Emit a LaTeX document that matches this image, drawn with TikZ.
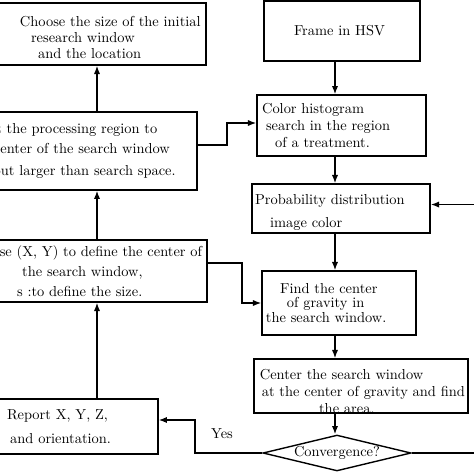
\documentclass[tikz,border=0pt]{standalone}
\usetikzlibrary{shapes.geometric,arrows.meta}
\tikzset
{
    box/.style      = {rectangle, draw=black, line width=1pt, align=left, inner xsep=0pt, inner ysep=0pt, font=\fontsize{10.4}{12.5}\selectfont},
    decision/.style = {diamond, draw=black, line width=1pt, inner sep=0pt, aspect=4, minimum width=3.75cm, minimum height=0.91cm, font=\fontsize{10.4}{12.5}\selectfont},
    arrow/.style    = {line width=1pt, ->, >={Latex[length=6pt,width=4.5pt]}}
}

\begin{document}
\begin{tikzpicture}[x=0.02532cm, y=-0.02532cm]
\useasboundingbox (0,0) rectangle (474,474);
\clip (0,0) rectangle (474,474);
% left column
\node(choose) [box, text width=5.47cm, minimum height=1.57cm] at (98,34) {\rule{0pt}{13pt}\hspace*{0.76cm}Choose the size of the initial\\[-1.5pt] \hspace*{1.04cm}research window\\[-0.5pt] \hspace*{1.22cm}and the location};
\node(proc) [box, text width=6.51cm, minimum height=1.97cm] at (68.5,151) {\hspace*{1.06cm}Set the processing region to\\[2pt] \hspace*{1.37cm}center of the search window\\[3pt] \hspace*{1.34cm}but larger than search space.};
\node(use) [box, text width=6.76cm, minimum height=1.57cm] at (73.5,271) {\hspace*{1.24cm}Use (X, Y) to define the center of\\[2pt] \hspace*{2.08cm}the search window,\\[2pt] \hspace*{1.95cm}s :to define the size.};
\node(report) [box, text width=4.25cm, minimum height=1.39cm] at (74,426.5) {\hspace*{0.43cm}Report X, Y, Z,\\[5pt] \hspace*{0.51cm}and orientation.};
% right column
\node(frame) [box, text width=3.95cm, minimum height=1.52cm] at (342,31) {\hspace*{0.76cm}Frame in HSV};
\node(hist) [box, text width=4.28cm, minimum height=1.54cm] at (341.5,125.5) {\hspace*{0.13cm}Color histogram\\[0pt] \hspace*{0.23cm}search in the region\\[0pt] \hspace*{0.46cm}of a treatment.};
\node(prob) [box, text width=4.51cm, minimum height=1.24cm] at (341,208.5) {\rule{0pt}{13pt}\hspace*{0.08cm}Probability distribution\\[3.5pt] \hspace*{0.46cm}image color};
\node(find) [box, text width=3.90cm, minimum height=1.62cm] at (339,303) {\hspace*{0.46cm}Find the center\\[-2pt] \hspace*{0.63cm}of gravity in\\[-2pt] \hspace*{0.10cm}the search window.};
\node(center) [box, text width=5.42cm, minimum height=1.37cm, text height=7pt, text depth=16pt] at (361,386) {\hspace*{0.15cm}Center the search window\\[-0.3pt] \hspace*{0.20cm}\mbox{at the center of gravity and find}\\[-0.3pt] \hspace*{1.65cm}the area.};
\node(conv) [decision] at (337,453) {Convergence?};
\node(yes) [font=\fontsize{10.4}{12.5}\selectfont] at (222,434) {Yes};
% bends
\coordinate (spine) at (97,0);
\coordinate (col) at (335,0);
\coordinate (bendA) at (227,123);
\coordinate (bendB) at (242,303);
\coordinate (bendC) at (195,420);
\coordinate (loopR) at (500,0);
% connectors
\draw[arrow] (proc.north -| spine) -- (choose.south -| spine);
\draw[arrow] (use.north -| spine) -- (proc.south -| spine);
\draw[arrow] (report.north -| spine) -- (use.south -| spine);
\draw[arrow] (frame.south -| col) -- (hist.north -| col);
\draw[arrow] (hist.south -| col) -- (prob.north -| col);
\draw[arrow] (prob.south -| col) -- (find.north -| col);
\draw[arrow] (find.south -| col) -- (center.north -| col);
\draw[arrow] (center.south -| col) -- (conv.north -| col);
\draw[arrow] ([yshift=0.15cm]proc.east) -| (bendA) -- (bendA -| hist.west);
\draw[arrow] ([yshift=0.2cm]use.east) -| (bendB) -- (find.west);
\draw[arrow] (conv.west) -| (bendC) -- (bendC -| report.east);
\draw[arrow] (conv.east) -- (conv.east -| loopR) -- ([yshift=0.1cm]prob.east -| loopR) -- ([yshift=0.1cm]prob.east);
\end{tikzpicture}
\end{document}
